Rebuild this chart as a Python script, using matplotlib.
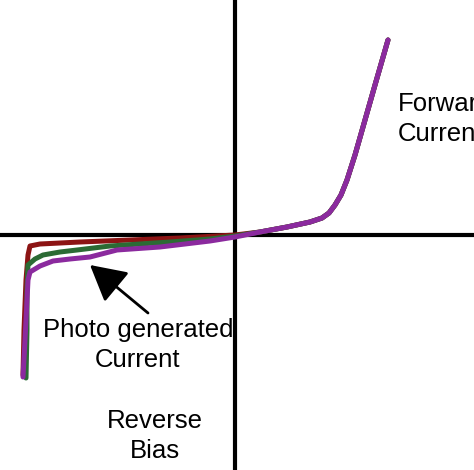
import matplotlib
matplotlib.use("Agg")
import matplotlib.pyplot as plt

# reverse-bias branches (voltage, current), arbitrary units
red_v = [-2.12, -2.11, -2.09, -2.07, -2.05, -1.95, -1.55, -1.05, -0.55, 0.0]
red_i = [-1.40, -0.95, -0.45, -0.20, -0.11, -0.09, -0.07, -0.05, -0.03, 0.0]

green_v = [-2.09, -2.08, -2.08, -2.07, -2.00, -1.92, -1.75, -1.58, -1.25, -0.65, -0.25, 0.0]
green_i = [-1.43, -0.95, -0.55, -0.30, -0.24, -0.20, -0.17, -0.15, -0.11, -0.07, -0.04, -0.01]

purple_v = [-2.12, -2.10, -2.08, -2.07, -2.05, -1.95, -1.82, -1.65, -1.45, -1.18, -0.75, -0.25, 0.0]
purple_i = [-1.42, -1.05, -0.65, -0.45, -0.37, -0.31, -0.26, -0.24, -0.22, -0.15, -0.12, -0.06, -0.02]

# forward branch, shared by all curves
fwd_v = [0.0, 0.25, 0.52, 0.75, 0.87, 0.94, 1.00, 1.06, 1.12, 1.20, 1.28, 1.40, 1.53]
fwd_i = [-0.02, 0.03, 0.08, 0.13, 0.17, 0.22, 0.30, 0.40, 0.55, 0.80, 1.08, 1.50, 1.95]

series = [
    (red_v, red_i, "#8c1414"),
    (green_v, green_i, "#2b6b34"),
    (purple_v, purple_i, "#8b2a9e"),
]

plt.rcParams["font.family"] = ["Liberation Sans", "DejaVu Sans"]

fig = plt.figure(figsize=(4.74, 4.70), dpi=100)
ax = fig.add_axes([0, 0, 1, 1])
ax.set_xlim(-2.35, 2.39)
ax.set_ylim(-2.35, 2.35)
ax.axis("off")

ax.axhline(0, color="black", lw=3.0, zorder=1)
ax.axvline(0, color="black", lw=3.0, zorder=1)

for v, i, c in series:
    ax.plot(v + fwd_v[1:], i + fwd_i[1:], color=c, lw=3.6,
            solid_joinstyle="round", solid_capstyle="round", zorder=2)

fs = 18.5
ax.annotate("", xy=(-1.45, -0.30), xytext=(-0.87, -0.78),
            arrowprops=dict(arrowstyle="-|>,head_length=1.1,head_width=0.6",
                            mutation_scale=20, lw=2, color="black",
                            shrinkA=0, shrinkB=0))
ax.text(-0.97, -1.10, "Photo generated\nCurrent", ha="center", va="center",
        fontsize=fs, linespacing=1.3)
ax.text(-0.80, -2.01, "Reverse\nBias", ha="center", va="center",
        fontsize=fs, linespacing=1.3)
ax.text(1.63, 1.16, "Forward\nCurrent", ha="left", va="center",
        fontsize=fs, linespacing=1.3, clip_on=False)

fig.savefig("out.png", dpi=100)
